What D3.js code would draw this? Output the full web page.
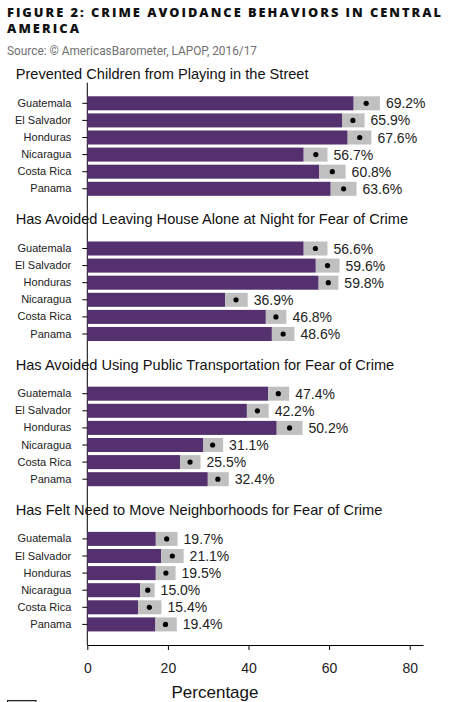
<!DOCTYPE html>
<html>
<head>
<meta charset="utf-8">
<script src="https://cdn.jsdelivr.net/npm/d3@7/dist/d3.min.js"></script>
<style>
  html, body { margin: 0; padding: 0; background: #fff; }
  svg { display: block; }
</style>
</head>
<body>
<svg id="chart" width="463" height="702"></svg>
<script>
// ---- Data ----
const countries = ["Guatemala", "El Salvador", "Honduras", "Nicaragua", "Costa Rica", "Panama"];
const panelTitles = [
  "Prevented Children from Playing in the Street",
  "Has Avoided Leaving House Alone at Night for Fear of Crime",
  "Has Avoided Using Public Transportation for Fear of Crime",
  "Has Felt Need to Move Neighborhoods for Fear of Crime"
];
const meanChildren  = [69.2, 65.9, 67.6, 56.7, 60.8, 63.6];
const lowerChildren = [66.1, 63.2, 64.6, 53.7, 57.5, 60.4];
const upperChildren = [72.6, 68.8, 70.5, 59.6, 64.1, 66.8];

const meanNight  = [56.6, 59.6, 59.8, 36.9, 46.8, 48.6];
const lowerNight = [53.7, 56.7, 57.4, 34.2, 44.3, 45.8];
const upperNight = [59.6, 62.6, 62.3, 39.8, 49.4, 51.4];

const meanTransport  = [47.4, 42.2, 50.2, 31.1, 25.5, 32.4];
const lowerTransport = [44.9, 39.6, 47.0, 28.8, 23.0, 29.9];
const upperTransport = [50.1, 45.0, 53.4, 33.7, 28.1, 35.1];

const meanMove  = [19.7, 21.1, 19.5, 15.0, 15.4, 19.4];
const lowerMove = [17.0, 18.3, 17.0, 13.1, 12.6, 16.9];
const upperMove = [22.4, 23.9, 21.9, 16.7, 18.4, 22.2];

const xTicks = [0, 20, 40, 60, 80];
const xDomainMax = 83.3;

const panels = [
  { title: panelTitles[0], mean: meanChildren, lower: lowerChildren, upper: upperChildren },
  { title: panelTitles[1], mean: meanNight, lower: lowerNight, upper: upperNight },
  { title: panelTitles[2], mean: meanTransport, lower: lowerTransport, upper: upperTransport },
  { title: panelTitles[3], mean: meanMove, lower: lowerMove, upper: upperMove }
];

// ---- Layout ----
const PURPLE = "#54306e";
const GREY = "#c0c0c0";
const FONT = "'Liberation Sans', Arial, Helvetica, sans-serif";
const svg = d3.select("#chart");

const x = d3.scaleLinear().domain([0, xDomainMax]).range([87.3, 423]);
const step = 17.1;
const firstCenter0 = 103.3;
const panelGap = 145.2;

// Header
svg.append("text")
  .attr("x", 7).attr("y", 16.8)
  .attr("textLength", 434).attr("lengthAdjust", "spacing")
  .style("font-family", "'Open Sans', 'DejaVu Sans', sans-serif")
  .style("font-weight", 800).style("font-size", "12.8px").style("fill", "#111")
  .text("FIGURE 2: CRIME AVOIDANCE BEHAVIORS IN CENTRAL");
svg.append("text")
  .attr("x", 7).attr("y", 33.4)
  .attr("textLength", 72).attr("lengthAdjust", "spacing")
  .style("font-family", "'Open Sans', 'DejaVu Sans', sans-serif")
  .style("font-weight", 800).style("font-size", "12.8px").style("fill", "#111")
  .text("AMERICA");
svg.append("text")
  .attr("x", 7).attr("y", 54.5)
  .attr("textLength", 250).attr("lengthAdjust", "spacingAndGlyphs")
  .style("font-family", "Roboto, 'Noto Sans', sans-serif")
  .style("font-size", "12.5px").style("fill", "#707070")
  .text("Source: \u00A9 AmericasBarometer, LAPOP, 2016/17");

// Vertical axis line (continuous)
svg.append("line")
  .attr("x1", x(0)).attr("x2", x(0))
  .attr("y1", 82.7).attr("y2", 645)
  .attr("stroke", "#000").attr("stroke-width", 1);

panels.forEach((p, i) => {
  const fc = firstCenter0 + i * panelGap;
  const top = fc - step / 2;
  const y = d3.scaleBand().domain(countries)
    .range([top, top + step * countries.length])
    .paddingInner(0.18).paddingOuter(0.09);

  const g = svg.append("g");

  // panel title
  g.append("text")
    .attr("x", 15.7).attr("y", fc - 24.2)
    .style("font-family", FONT).style("font-size", "14.6px").style("fill", "#111")
    .text(p.title);

  const rows = countries.map((c, k) => ({ c, mean: p.mean[k], lo: p.lower[k], hi: p.upper[k] }));

  // purple bars up to lower bound
  g.selectAll("rect.bar").data(rows).join("rect")
    .attr("class", "bar")
    .attr("x", x(0)).attr("y", d => y(d.c))
    .attr("width", d => x(d.lo) - x(0))
    .attr("height", y.bandwidth())
    .attr("fill", PURPLE);

  // grey CI box
  g.selectAll("rect.ci").data(rows).join("rect")
    .attr("class", "ci")
    .attr("x", d => x(d.lo)).attr("y", d => y(d.c))
    .attr("width", d => x(d.hi) - x(d.lo))
    .attr("height", y.bandwidth())
    .attr("fill", GREY);

  // dots
  g.selectAll("circle").data(rows).join("circle")
    .attr("cx", d => x(d.mean))
    .attr("cy", d => y(d.c) + y.bandwidth() / 2)
    .attr("r", 2.6).attr("fill", "#000");

  // value labels
  g.selectAll("text.val").data(rows).join("text")
    .attr("class", "val")
    .attr("x", d => x(d.hi) + 6)
    .attr("y", d => y(d.c) + y.bandwidth() / 2)
    .attr("dy", "0.36em")
    .style("font-family", FONT).style("font-size", "14px").style("fill", "#222")
    .text(d => d.mean.toFixed(1) + "%");

  // y axis ticks/labels
  const ya = g.append("g")
    .attr("transform", `translate(${x(0)},0)`)
    .call(d3.axisLeft(y).tickSize(5).tickPadding(11));
  ya.select(".domain").remove();
  ya.selectAll("text")
    .style("font-family", FONT).style("font-size", "11px").style("fill", "#222");
});

// bottom x axis
const xa = svg.append("g")
  .attr("transform", "translate(0,645)")
  .call(d3.axisBottom(x).tickValues(xTicks).tickSize(5).tickSizeOuter(0).tickPadding(13));
xa.selectAll("text")
  .style("font-family", FONT).style("font-size", "14px").style("fill", "#222");

svg.append("text")
  .attr("x", 215).attr("y", 697.5)
  .attr("text-anchor", "middle")
  .style("font-family", FONT).style("font-size", "17px").style("fill", "#111")
  .text("Percentage");

// legend box cut off at bottom
svg.append("rect")
  .attr("x", 7.5).attr("y", 700.5).attr("width", 28.5).attr("height", 10)
  .attr("fill", GREY).attr("stroke", "#222").attr("stroke-width", 1);
</script>
</body>
</html>
